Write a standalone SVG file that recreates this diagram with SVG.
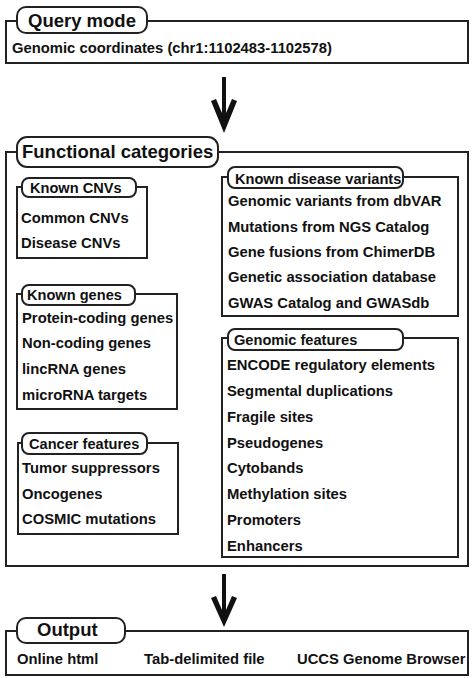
<svg xmlns="http://www.w3.org/2000/svg" width="474" height="678" viewBox="0 0 474 678">
<style>
.box{fill:none;stroke:#222;stroke-width:2}
.pill{fill:#fff;stroke:#222;stroke-width:2}
text{font-family:"Liberation Sans",Arial,sans-serif;font-weight:bold;fill:#111}
.t{font-size:18.5px}
.s{font-size:14.6px}
.i{font-size:14.8px}
.arrow{fill:#111}
</style>
<rect width="474" height="678" fill="#fff"/>
<g id="connectors">
<g id="arrow1"><rect class="arrow" x="222" y="77" width="4" height="42"/><polygon class="arrow" points="211,101 216,99 222,113 226,113 232,99 237,101 224,133"/></g>
<g id="arrow2"><rect class="arrow" x="222" y="574" width="4" height="42"/><polygon class="arrow" points="211,598 216,596 222,610 226,610 232,596 237,598 224,627"/></g>
</g>
<g id="query-mode">
<rect class="box" x="6" y="21" width="462" height="42"/>
<rect class="pill" x="17" y="7" width="130" height="26" rx="9"/>
<text class="t" x="28" y="27">Query mode</text>
<text class="i" x="12" y="53">Genomic coordinates (chr1:1102483-1102578)</text>
</g>
<g id="functional-categories">
<rect class="box" x="6" y="152" width="462" height="414"/>
<rect class="pill" x="17" y="137" width="201" height="30" rx="10"/>
<text class="t" x="22" y="158">Functional categories</text>
</g>
<g id="known-cnvs">
<rect class="box" x="17" y="187" width="130" height="71"/>
<rect class="pill" x="22" y="178" width="114" height="19" rx="7"/>
<text class="s" x="30" y="193">Known CNVs</text>
<text class="i" x="21" y="223">Common CNVs</text>
<text class="i" x="21" y="248">Disease CNVs</text>
</g>
<g id="known-genes">
<rect class="box" x="17" y="294" width="160" height="115"/>
<rect class="pill" x="22" y="285" width="113" height="20" rx="7"/>
<text class="s" x="27" y="300">Known genes</text>
<text class="i" x="22" y="323">Protein-coding genes</text>
<text class="i" x="22" y="348">Non-coding genes</text>
<text class="i" x="22" y="374">lincRNA genes</text>
<text class="i" x="22" y="400">microRNA targets</text>
</g>
<g id="cancer-features">
<rect class="box" x="18" y="443" width="160" height="91"/>
<rect class="pill" x="22" y="433" width="125" height="21" rx="7"/>
<text class="s" x="29" y="449">Cancer features</text>
<text class="i" x="22" y="473">Tumor suppressors</text>
<text class="i" x="22" y="499">Oncogenes</text>
<text class="i" x="22" y="524">COSMIC mutations</text>
</g>
<g id="known-disease-variants">
<rect class="box" x="222" y="177" width="236" height="139"/>
<rect class="pill" x="228" y="167" width="175" height="21" rx="7"/>
<text class="s" x="235" y="184">Known disease variants</text>
<text class="i" x="228" y="206">Genomic variants from dbVAR</text>
<text class="i" x="228" y="232">Mutations from NGS Catalog</text>
<text class="i" x="228" y="257">Gene fusions from ChimerDB</text>
<text class="i" x="228" y="282">Genetic association database</text>
<text class="i" x="228" y="308">GWAS Catalog and GWASdb</text>
</g>
<g id="genomic-features">
<rect class="box" x="222" y="338" width="236" height="219"/>
<rect class="pill" x="228" y="329" width="175" height="21" rx="7"/>
<text class="s" x="234" y="345">Genomic features</text>
<text class="i" x="227" y="370">ENCODE regulatory elements</text>
<text class="i" x="227" y="396">Segmental duplications</text>
<text class="i" x="227" y="422">Fragile sites</text>
<text class="i" x="227" y="448">Pseudogenes</text>
<text class="i" x="227" y="473">Cytobands</text>
<text class="i" x="227" y="499">Methylation sites</text>
<text class="i" x="227" y="525">Promoters</text>
<text class="i" x="227" y="551">Enhancers</text>
</g>
<g id="output">
<rect class="box" x="6" y="631" width="462" height="44"/>
<rect class="pill" x="17" y="618" width="108" height="25" rx="9"/>
<text class="t" x="37" y="636">Output</text>
<text class="i" x="17" y="664">Online html</text>
<text class="i" x="144" y="664">Tab-delimited file</text>
<text class="i" x="297" y="664">UCCS Genome Browser</text>
</g>
</svg>
